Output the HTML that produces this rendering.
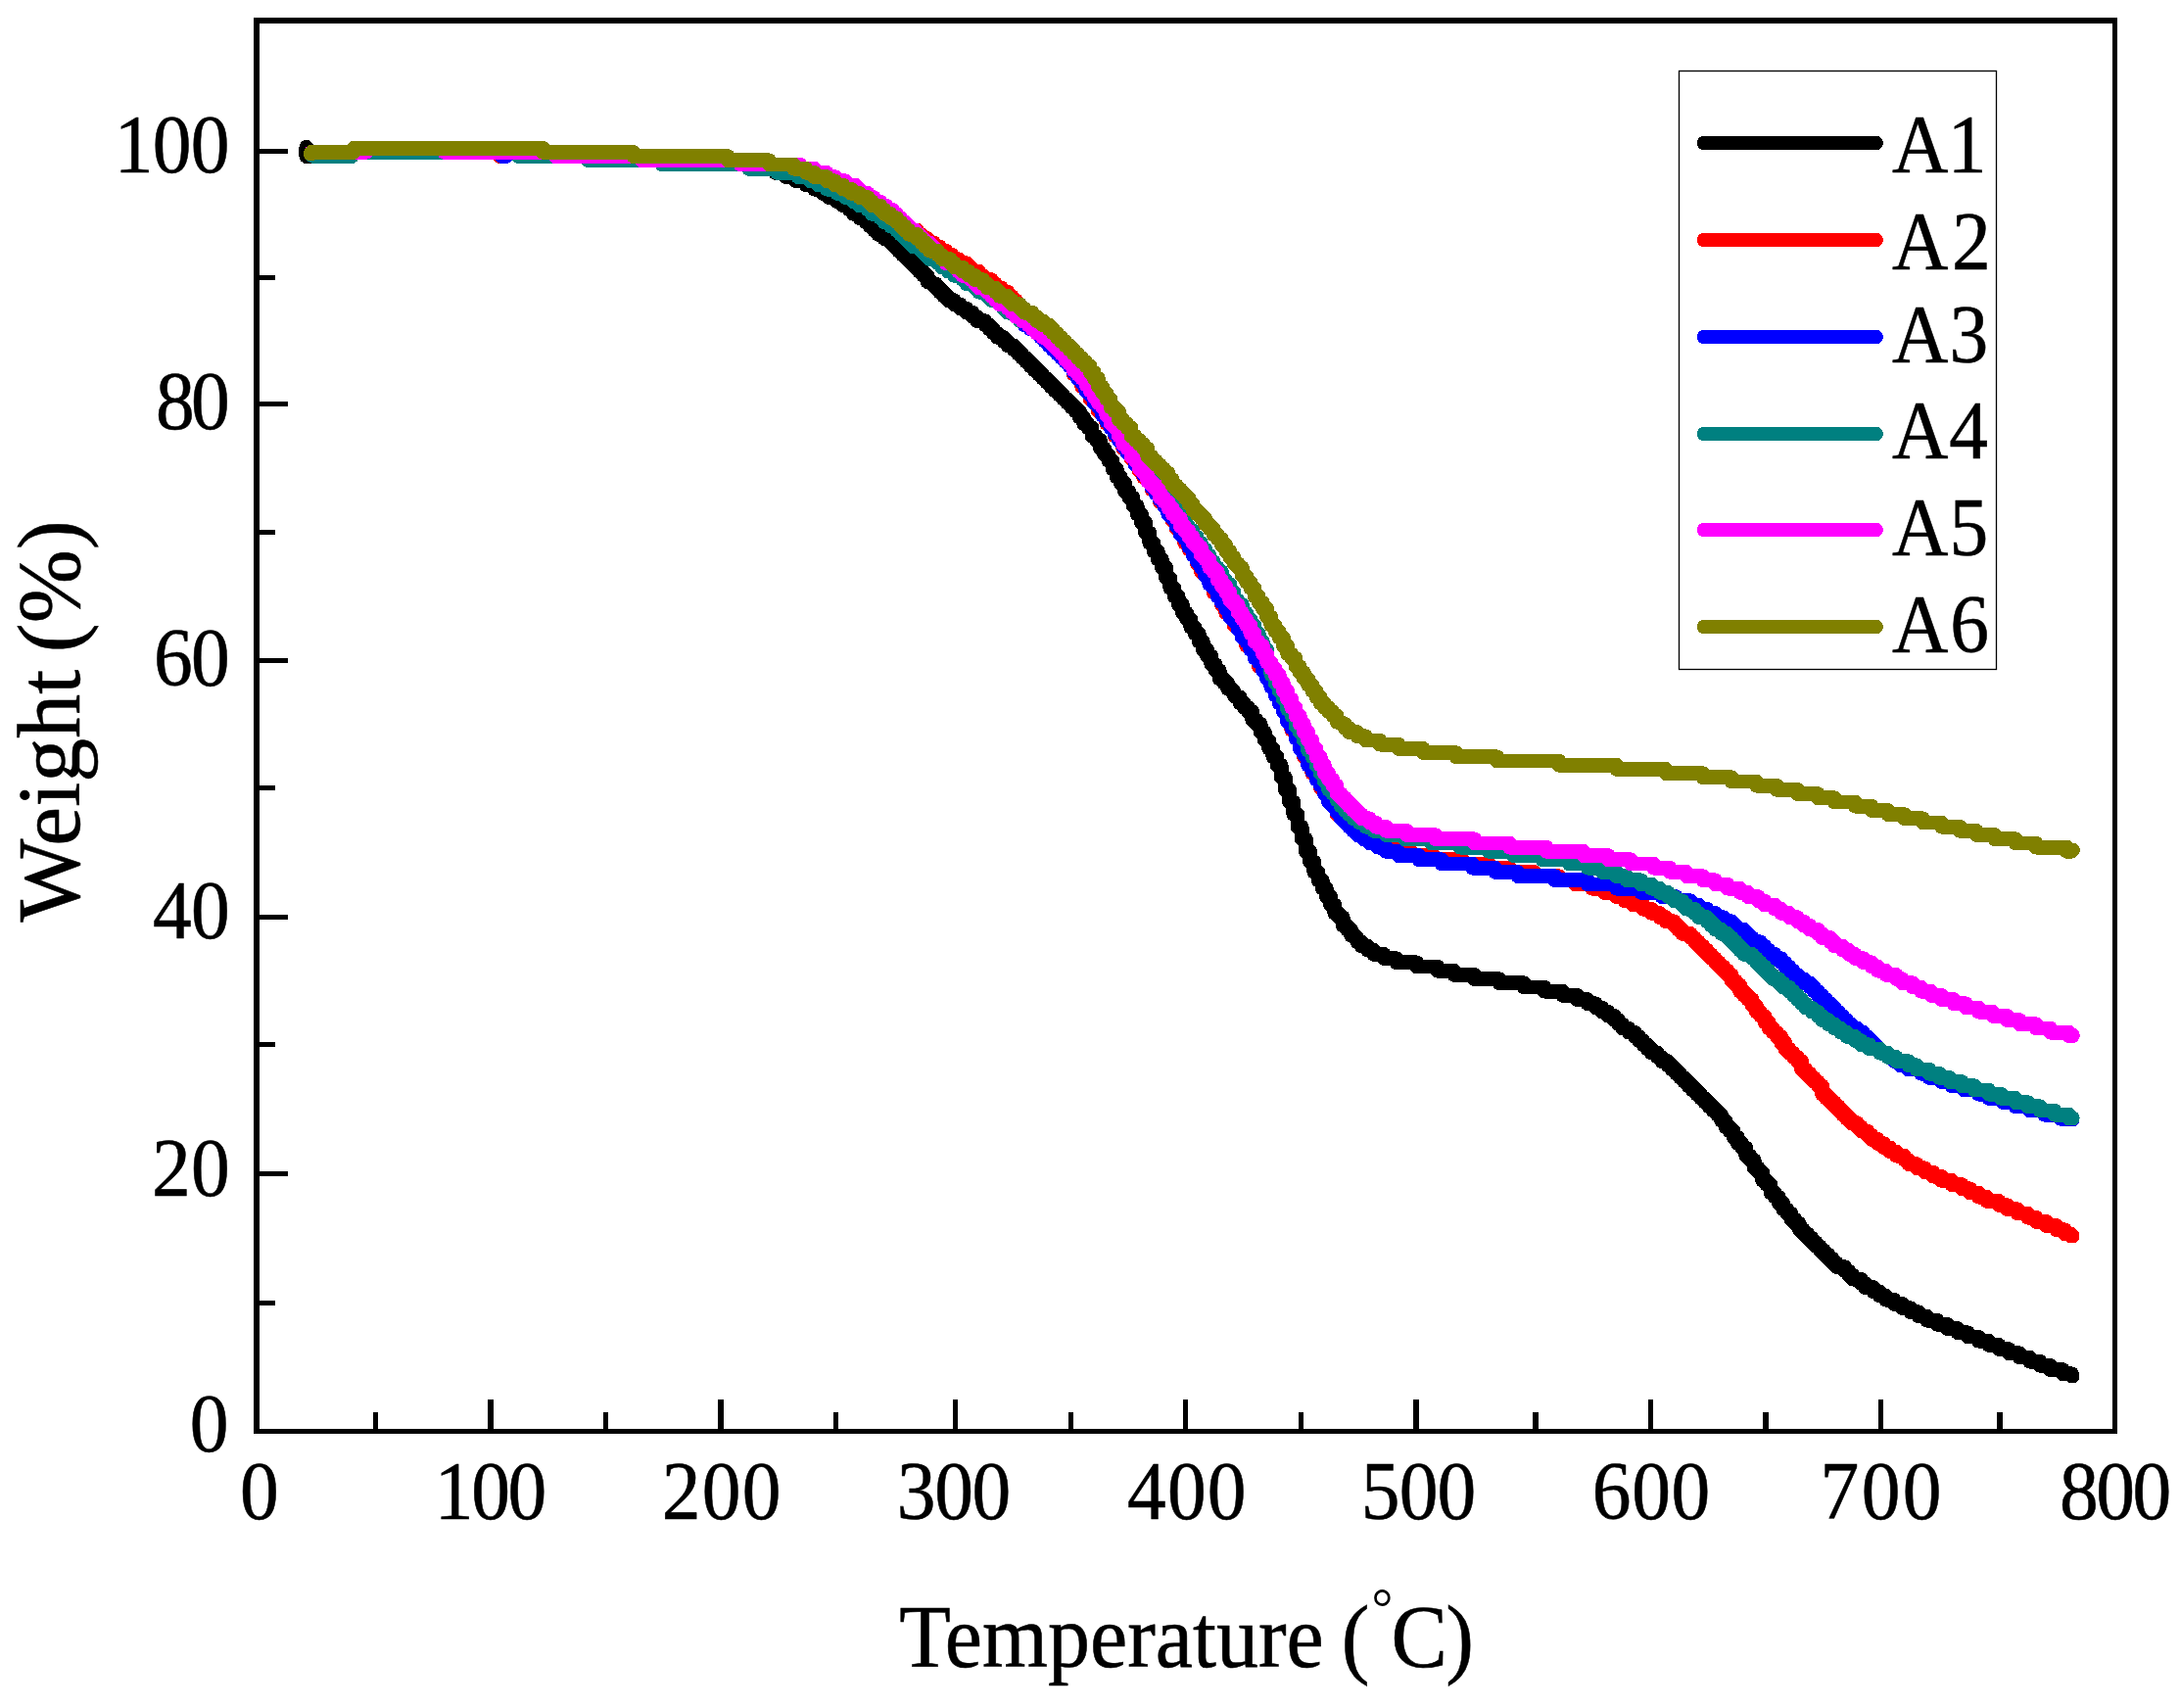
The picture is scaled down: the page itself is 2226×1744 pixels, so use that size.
<!DOCTYPE html>
<html lang="en"><head><meta charset="utf-8"><title>TGA curves A1-A6</title>
<style>html,body{margin:0;padding:0;background:#fff}body{width:2226px;height:1744px;overflow:hidden}svg{display:block}text{font-family:"Liberation Serif",serif;fill:#000;stroke:#000;stroke-width:0.55px}</style>
</head><body>
<svg width="2226" height="1744" viewBox="0 0 2226 1744" role="img" aria-label="TGA weight versus temperature curves A1 to A6">
<rect width="2226" height="1744" fill="#fff"/>
<g fill="none" stroke-width="14.8" stroke-linecap="round" stroke-linejoin="round" shape-rendering="crispEdges">
<path stroke="#000000" d="M312.8,150.3V159.6H354.8V155.4H375.8V151.2H548.0V155.4H636.2V159.6H730.7V163.8H760.1V168.0H779.0V172.2H791.6V176.4H802.1V180.6H812.6V184.8H823.1V189.0H831.5V193.2H839.9V197.4H846.2V201.6H854.6V205.8H860.9V210.0H867.2V214.2H871.4V218.4H877.7V222.6H884.0V226.8H888.2V231.0H892.4V235.2H896.6V239.4H902.9V243.6H909.2V247.8H913.4V252.0H917.6V256.2H921.8V260.4H926.0V264.6H930.2V268.8H934.4V273.0H938.6V277.2H942.8V281.4H947.0V287.7H951.2V289.8H955.4V294.0H959.6V298.2H963.8V302.4H968.0V306.6H974.3V310.8H980.6V315.0H986.9V319.2H993.2V323.4H997.4V327.6H1005.8V331.8H1010.0V336.0H1014.2V340.2H1018.4V344.4H1024.7V348.6H1028.8V352.8H1035.2V357.0H1039.4V361.2H1043.6V365.4H1047.8V369.6H1052.0V373.8H1056.2V378.0H1060.4V382.2H1064.6V386.4H1068.8V390.6H1073.0V394.8H1077.2V399.0H1081.4V403.2H1085.6V407.4H1089.8V411.6H1094.0V415.8H1098.2V420.0H1102.4V426.3H1106.6V432.6H1110.8V436.8H1115.0V445.2H1119.2V449.4H1123.4V457.8H1127.6V464.1H1131.8V470.4H1136.0V478.8H1140.2V487.2H1144.4V493.5H1148.6V501.9H1152.8V508.2H1157.0V516.6H1161.2V525.0H1165.4V533.4H1169.6V543.9H1173.8V554.4H1178.0V562.8H1182.2V571.2H1186.4V579.6H1190.6V590.1H1194.8V600.6H1199.0V609.0H1203.2V617.4H1207.4V625.8H1211.6V632.1H1215.8V640.5H1220.0V646.8H1224.2V655.2H1228.4V663.6H1232.6V669.9H1236.8V678.3H1241.0V684.6H1245.2V693.0H1249.4V697.2H1253.6V703.5H1257.8V705.6H1259.8V709.8H1262.0V711.9H1266.2V718.2H1270.4V722.4H1274.6V726.6H1278.8V735.0H1283.0V739.2H1287.2V747.6H1291.4V756.0H1295.6V764.4H1299.8V772.8H1304.0V781.2H1308.2V793.8H1312.4V806.4H1316.6V819.0H1320.8V831.6H1325.0V844.2H1329.2V856.8H1333.4V869.4H1337.6V879.9H1341.8V890.4H1346.0V898.8H1350.2V907.2H1354.4V915.6H1358.6V924.0H1362.8V932.4H1367.0V936.6H1371.2V945.0H1375.4V949.2H1379.6V955.5H1383.8V957.6H1385.8V961.8H1390.1V966.0H1396.4V970.2H1402.7V974.4H1413.2V978.6H1425.8V982.8H1446.8V987.0H1467.8V991.2H1484.6V995.4H1505.6V999.6H1530.8V1003.8H1556.0V1008.0H1577.0V1012.2H1595.8V1016.4H1610.6V1020.6H1621.1V1024.8H1629.5V1029.0H1635.8V1033.2H1642.1V1037.4H1648.4V1041.6H1652.6V1045.8H1656.8V1050.0H1663.1V1054.2H1669.4V1058.4H1673.6V1062.6H1677.8V1066.8H1682.0V1071.0H1686.2V1075.2H1692.5V1079.4H1696.7V1083.6H1703.0V1087.8H1707.2V1092.0H1711.4V1096.2H1715.6V1100.4H1719.8V1104.6H1724.0V1108.8H1728.2V1113.0H1732.4V1117.2H1736.6V1121.4H1740.8V1125.6H1745.0V1129.8H1749.2V1134.0H1753.4V1138.2H1757.6V1144.5H1761.8V1150.8H1766.0V1155.0H1770.2V1161.3H1774.4V1167.6H1778.6V1171.8H1782.8V1180.2H1787.0V1184.4H1791.2V1192.8H1795.4V1197.0H1799.6V1205.4H1803.8V1209.6H1808.0V1218.0H1812.2V1222.2H1816.4V1228.5H1820.6V1234.8H1824.8V1239.0H1829.0V1245.3H1833.2V1249.5H1837.4V1255.8H1841.6V1260.0H1845.8V1264.2H1850.0V1268.4H1854.2V1272.6H1858.4V1276.8H1862.6V1281.0H1866.8V1285.2H1871.0V1289.4H1875.2V1293.6H1883.6V1297.8H1887.8V1302.0H1892.0V1306.2H1900.4V1310.4H1904.6V1314.6H1913.0V1318.8H1919.2V1323.0H1925.6V1327.2H1934.0V1331.4H1942.4V1335.6H1950.8V1339.8H1959.2V1344.0H1967.6V1348.2H1978.1V1352.4H1988.6V1356.6H1999.1V1360.8H2009.6V1365.0H2020.1V1369.2H2030.6V1373.4H2041.1V1377.6H2051.5V1381.8H2062.1V1386.0H2072.5V1390.2H2083.1V1394.4H2093.5V1398.6H2106.2V1402.8H2115.4V1405.0H2116.2"/>
<path stroke="#ff0000" d="M318.0,157.0H320.7V155.4H373.8V151.2H487.2V155.4H510.3V159.6H516.6V155.4H558.6V159.6H665.7V163.8H760.2V168.0H802.2V172.2H821.1V176.4H831.6V180.6H844.2V184.8H852.6V189.0H863.1V193.2H869.4V197.4H877.8V201.6H886.2V205.8H894.6V210.0H898.8V214.2H907.2V218.4H911.4V222.6H919.8V226.8H924.0V231.0H928.2V235.2H936.6V239.4H940.8V243.6H947.1V247.8H953.4V252.0H959.7V256.2H966.0V260.4H972.3V264.6H978.6V268.8H987.0V273.0H991.2V277.2H999.6V281.4H1003.8V285.6H1012.2V289.8H1016.4V294.0H1022.7V298.2H1029.0V302.4H1033.2V306.6H1037.4V310.8H1041.6V315.0H1045.8V319.2H1050.0V323.4H1054.2V327.6H1058.4V331.8H1062.6V338.1H1066.8V342.3H1071.0V348.6H1075.2V352.8H1079.4V357.0H1083.6V363.3H1087.8V369.6H1092.0V373.8H1096.2V382.2H1100.4V386.4H1104.6V394.8H1108.8V399.0H1113.0V407.4H1117.2V411.6H1121.4V420.0H1125.6V424.2H1129.8V432.6H1134.0V436.8H1138.2V445.2H1142.4V449.4H1146.6V457.8H1150.8V462.0H1155.0V468.3H1159.2V474.6H1163.4V480.9H1167.6V487.2H1171.8V491.4H1176.0V499.8H1180.2V504.0H1184.4V512.4H1188.6V516.6H1192.8V525.0H1197.0V531.3H1201.2V539.7H1205.4V546.0H1209.6V554.4H1213.8V560.7H1218.0V567.0H1222.2V575.4H1226.4V583.8H1230.6V588.0H1234.8V596.4H1239.0V604.8H1243.2V609.0H1247.4V617.4H1251.6V625.8H1255.8V630.0H1260.0V638.4H1264.2V642.6H1268.4V651.0H1272.6V659.4H1276.8V663.6H1281.0V672.0H1285.2V680.4H1289.4V684.6H1293.6V693.0H1297.8V701.4H1302.0V709.8H1306.2V718.2H1310.4V726.6H1314.6V735.0H1318.8V745.5H1323.0V753.9H1327.2V762.3H1331.4V772.8H1335.6V779.1H1339.8V789.6H1344.0V795.9H1348.2V804.3H1352.4V810.6H1356.6V819.0H1360.8V823.2H1365.0V831.6H1369.2V835.8H1373.4V840.0H1377.6V844.2H1381.8V848.4H1386.0V852.6H1394.4V856.8H1402.8V861.0H1411.2V865.2H1423.8V869.4H1440.6V873.6H1463.7V877.8H1493.1V882.0H1520.4V886.2H1541.4V890.4H1566.6V894.6H1591.8V898.8H1608.6V903.0H1625.4V907.2H1638.0V911.4H1650.6V915.6H1659.0V919.8H1667.4V924.0H1677.9V928.2H1686.3V932.4H1694.7V936.6H1701.0V940.8H1709.4V945.0H1713.6V949.2H1717.8V953.4H1726.2V957.6H1730.4V961.8H1734.6V966.0H1738.8V970.2H1743.0V974.4H1747.2V978.6H1751.4V982.8H1755.6V987.0H1759.8V991.2H1764.0V995.4H1768.2V1001.7H1772.4V1005.9H1776.6V1012.2H1780.8V1016.4H1785.0V1020.6H1789.2V1026.9H1793.4V1033.2H1797.6V1037.4H1801.8V1043.7H1806.0V1050.0H1810.2V1054.2H1814.4V1058.4H1818.6V1064.7H1822.8V1071.0H1827.0V1075.2H1831.2V1079.4H1835.4V1083.6H1839.6V1092.0H1843.8V1096.2H1848.0V1100.4H1852.2V1104.6H1856.4V1108.8H1860.6V1117.2H1864.8V1121.4H1869.0V1125.6H1873.2V1129.8H1877.4V1134.0H1881.6V1138.2H1885.8V1142.4H1890.0V1146.6H1896.3V1150.8H1900.5V1155.0H1906.8V1159.2H1911.0V1163.4H1917.3V1167.6H1923.6V1171.8H1929.9V1176.0H1936.2V1180.2H1944.6V1184.4H1948.8V1188.6H1957.2V1192.8H1965.6V1197.0H1974.0V1201.2H1982.4V1205.4H1992.9V1209.6H2003.4V1213.8H2011.8V1218.0H2020.2V1222.2H2028.6V1226.4H2041.2V1230.6H2049.6V1234.8H2060.1V1239.0H2070.6V1243.2H2079.0V1247.4H2089.5V1251.6H2100.0V1255.8H2108.4V1260.0H2114.4V1262.0H2116.2"/>
<path stroke="#0000ff" d="M318.0,157.0H320.7V155.4H373.8V151.2H487.2V155.4H512.4V159.6H516.6V155.4H558.6V159.6H667.8V163.8H760.2V168.0H802.2V172.2H819.0V176.4H827.4V180.6H840.0V184.8H848.4V189.0H856.8V193.2H865.2V197.4H873.6V201.6H882.0V205.8H888.3V210.0H894.6V214.2H900.9V218.4H907.2V222.6H911.4V226.8H917.7V231.0H921.9V235.2H928.2V239.4H932.4V243.6H936.6V247.8H942.9V252.0H949.2V256.2H953.4V260.4H959.7V264.6H966.0V268.8H970.2V273.0H976.5V277.2H982.8V281.4H989.1V285.6H995.4V289.8H999.6V294.0H1003.8V298.2H1010.1V302.4H1016.4V306.6H1020.6V310.8H1024.8V315.0H1031.1V319.2H1037.4V323.4H1041.6V327.6H1045.8V331.8H1052.1V336.0H1058.4V340.2H1062.6V344.4H1066.8V348.6H1071.0V352.8H1075.2V357.0H1079.4V361.2H1083.6V365.4H1087.8V369.6H1092.0V373.8H1096.2V380.1H1100.4V386.4H1104.6V390.6H1108.8V399.0H1113.0V403.2H1117.2V411.6H1121.4V415.8H1125.6V424.2H1129.8V430.5H1134.0V436.8H1138.2V443.1H1142.4V449.4H1146.6V455.7H1150.8V462.0H1155.0V466.2H1159.2V474.6H1163.4V478.8H1167.6V485.1H1171.8V491.4H1176.0V497.7H1180.2V504.0H1184.4V510.3H1188.6V516.6H1192.8V525.0H1197.0V529.2H1201.2V537.6H1205.4V546.0H1209.6V550.2H1213.8V558.6H1218.0V567.0H1222.2V573.3H1226.4V579.6H1230.6V588.0H1234.8V596.4H1239.0V600.6H1243.2V609.0H1247.4V615.3H1251.6V621.6H1255.8V630.0H1260.0V634.2H1264.2V642.6H1268.4V651.0H1272.6V655.2H1276.8V663.6H1281.0V672.0H1285.2V676.2H1289.4V684.6H1293.6V693.0H1297.8V701.4H1302.0V709.8H1306.2V718.2H1310.4V726.6H1314.6V737.1H1318.8V743.4H1323.0V753.9H1327.2V764.4H1331.4V770.7H1335.6V781.2H1339.8V787.5H1344.0V795.9H1348.2V802.2H1352.4V810.6H1356.6V819.0H1360.8V823.2H1365.0V829.5H1369.2V835.8H1373.4V840.0H1377.6V844.2H1381.8V848.4H1386.0V852.6H1392.3V856.8H1398.6V861.0H1407.0V865.2H1415.4V869.4H1428.0V873.6H1449.0V877.8H1472.1V882.0H1503.6V886.2H1526.7V890.4H1549.8V894.6H1587.6V898.8H1621.2V903.0H1650.6V907.2H1675.8V911.4H1696.8V915.6H1711.5V919.8H1726.2V924.0H1734.6V928.2H1743.0V932.4H1751.4V936.6H1759.8V940.8H1768.2V945.0H1772.4V949.2H1780.8V953.4H1785.0V957.6H1789.2V961.8H1797.6V966.0H1801.8V970.2H1806.0V974.4H1812.3V978.6H1818.6V982.8H1822.8V987.0H1827.0V991.2H1831.2V995.4H1835.4V999.6H1841.7V1003.8H1848.0V1008.0H1852.2V1012.2H1856.4V1016.4H1860.6V1020.6H1864.8V1024.8H1869.0V1029.0H1873.2V1033.2H1877.4V1037.4H1881.6V1041.6H1885.8V1045.8H1890.0V1050.0H1896.3V1054.2H1902.6V1058.4H1906.8V1062.6H1911.0V1066.8H1915.2V1071.0H1919.4V1075.2H1927.8V1079.4H1934.1V1083.6H1940.4V1087.8H1948.8V1092.0H1961.4V1096.2H1969.8V1100.4H1982.4V1104.6H1992.9V1108.8H2005.5V1113.0H2020.2V1117.2H2030.7V1121.4H2045.4V1125.6H2058.0V1129.8H2072.7V1134.0H2087.4V1138.2H2104.2V1142.4H2114.4V1143.0H2116.2"/>
<path stroke="#008080" d="M318.0,158.3H320.7V159.6H359.1V155.4H529.2V159.6H600.6V163.8H676.2V168.0H764.4V172.2H793.8V176.4H814.8V180.6H827.4V184.8H835.8V189.0H844.2V193.2H854.7V197.4H863.1V201.6H871.5V205.8H877.8V210.0H886.2V214.2H890.4V218.4H898.8V222.6H903.0V226.8H909.3V231.0H915.6V235.2H919.8V239.4H924.0V243.6H928.2V247.8H932.4V252.0H940.8V256.2H945.0V260.4H949.2V264.6H957.6V268.8H961.8V273.0H968.1V277.2H974.4V281.4H982.8V285.6H987.0V289.8H995.4V294.0H999.6V298.2H1008.0V302.4H1012.2V306.6H1020.6V310.8H1024.8V315.0H1029.0V319.2H1037.4V323.4H1041.6V327.6H1050.0V331.8H1054.2V336.0H1060.5V340.2H1066.8V344.4H1071.0V348.6H1075.2V352.8H1079.4V357.0H1083.6V361.2H1087.8V365.4H1092.0V369.6H1096.2V373.8H1100.4V378.0H1104.6V382.2H1108.8V386.4H1113.0V394.8H1117.2V399.0H1121.4V405.3H1125.6V411.6H1129.8V415.8H1134.0V424.2H1138.2V432.6H1142.4V436.8H1146.6V445.2H1150.8V453.6H1155.0V457.8H1159.2V466.2H1163.4V470.4H1167.6V478.8H1171.8V483.0H1176.0V489.3H1180.2V495.6H1184.4V499.8H1188.6V508.2H1192.8V512.4H1197.0V518.7H1201.2V525.0H1205.4V529.2H1209.6V537.6H1213.8V541.8H1218.0V548.1H1222.2V554.4H1226.4V560.7H1230.6V567.0H1234.8V573.3H1239.0V579.6H1243.2V583.8H1247.4V592.2H1251.6V596.4H1255.8V604.8H1260.0V613.2H1264.2V617.4H1268.4V625.8H1272.6V632.1H1276.8V638.4H1281.0V646.8H1285.2V655.2H1289.4V663.6H1293.6V676.2H1297.8V688.8H1302.0V697.2H1306.2V705.6H1310.4V714.0H1314.6V724.5H1318.8V730.8H1323.0V741.3H1327.2V747.6H1331.4V756.0H1335.6V766.5H1339.8V772.8H1344.0V781.2H1348.2V789.6H1352.4V798.0H1356.6V806.4H1360.8V810.6H1365.0V816.9H1369.2V823.2H1373.4V827.4H1377.6V831.6H1381.8V835.8H1388.1V840.0H1394.4V844.2H1402.8V848.4H1415.4V852.6H1434.3V856.8H1461.6V861.0H1491.0V865.2H1520.4V869.4H1545.6V873.6H1575.0V877.8H1602.3V882.0H1621.2V886.2H1635.9V890.4H1650.6V894.6H1661.1V898.8H1675.8V903.0H1686.3V907.2H1694.7V911.4H1703.1V915.6H1709.4V919.8H1717.8V924.0H1722.0V928.2H1730.4V932.4H1734.6V936.6H1743.0V940.8H1747.2V945.0H1751.4V949.2H1757.7V953.4H1764.0V957.6H1768.2V961.8H1772.4V966.0H1776.6V970.2H1780.8V974.4H1789.2V978.6H1793.4V982.8H1797.6V987.0H1801.8V991.2H1806.0V995.4H1810.2V999.6H1816.5V1003.8H1820.7V1008.0H1827.0V1012.2H1831.2V1016.4H1835.4V1020.6H1839.6V1024.8H1843.8V1029.0H1850.1V1033.2H1856.4V1037.4H1860.6V1041.6H1866.9V1045.8H1873.2V1050.0H1879.5V1054.2H1885.8V1058.4H1894.2V1062.6H1900.5V1066.8H1908.9V1071.0H1919.4V1075.2H1927.8V1079.4H1936.2V1083.6H1948.8V1087.8H1957.2V1092.0H1969.8V1096.2H1980.3V1100.4H1990.8V1104.6H2003.4V1108.8H2016.0V1113.0H2030.7V1117.2H2043.3V1121.4H2058.0V1125.6H2070.6V1129.8H2083.2V1134.0H2097.9V1138.2H2112.6V1142.0H2116.2V1141.5"/>
<path stroke="#ff00ff" d="M318.0,155.3H320.7V155.4H373.8V151.2H453.6V155.4H567.0V159.6H655.2V163.8H756.0V168.0H816.9V172.2H831.6V176.4H844.2V180.6H852.6V184.8H863.1V189.0H873.6V193.2H877.8V197.4H886.2V201.6H892.5V205.8H898.8V210.0H905.1V214.2H911.4V218.4H915.6V222.6H919.8V226.8H924.0V231.0H928.2V235.2H934.5V239.4H938.7V243.6H942.9V247.8H949.2V252.0H953.4V256.2H957.6V260.4H961.8V264.6H966.0V268.8H974.4V273.0H978.6V277.2H982.8V281.4H991.2V285.6H995.4V289.8H999.6V294.0H1008.0V298.2H1012.2V302.4H1016.4V306.6H1020.6V310.8H1029.0V315.0H1033.2V319.2H1037.4V323.4H1043.7V327.6H1050.0V331.8H1054.2V336.0H1058.4V340.2H1064.7V344.4H1071.0V348.6H1075.2V352.8H1079.4V357.0H1083.6V361.2H1087.8V367.5H1092.0V371.7H1096.2V378.0H1100.4V382.2H1104.6V386.4H1108.8V392.7H1113.0V399.0H1117.2V405.3H1121.4V411.6H1125.6V415.8H1129.8V424.2H1134.0V432.6H1138.2V436.8H1142.4V445.2H1146.6V453.6H1150.8V457.8H1155.0V466.2H1159.2V470.4H1163.4V478.8H1167.6V483.0H1171.8V491.4H1176.0V495.6H1180.2V499.8H1184.4V508.2H1188.6V512.4H1192.8V518.7H1197.0V525.0H1201.2V529.2H1205.4V537.6H1209.6V541.8H1213.8V548.1H1218.0V554.4H1222.2V558.6H1226.4V567.0H1230.6V571.2H1234.8V579.6H1239.0V583.8H1243.2V592.2H1247.4V598.5H1251.6V604.8H1255.8V613.2H1260.0V617.4H1264.2V625.8H1268.4V632.1H1272.6V638.4H1276.8V646.8H1281.0V655.2H1285.2V659.4H1289.4V667.8H1293.6V676.2H1297.8V682.5H1302.0V688.8H1306.2V697.2H1310.4V705.6H1314.6V714.0H1318.8V722.4H1323.0V730.8H1327.2V739.2H1331.4V747.6H1335.6V756.0H1339.8V764.4H1344.0V772.8H1348.2V781.2H1352.4V789.6H1356.6V795.9H1360.8V802.2H1365.0V810.6H1369.2V814.8H1373.4V819.0H1377.6V823.2H1381.8V827.4H1386.0V831.6H1390.2V835.8H1398.6V840.0H1404.9V844.2H1415.4V848.4H1436.4V852.6H1465.8V856.8H1505.7V861.0H1541.4V865.2H1579.2V869.4H1617.0V873.6H1642.2V877.8H1665.3V882.0H1688.4V886.2H1705.2V890.4H1722.0V894.6H1738.8V898.8H1751.4V903.0H1764.0V907.2H1776.6V911.4H1785.0V915.6H1795.5V919.8H1801.8V924.0H1812.3V928.2H1818.6V932.4H1827.0V936.6H1835.4V940.8H1841.7V945.0H1848.0V949.2H1856.4V953.4H1860.6V957.6H1869.0V961.8H1873.2V966.0H1881.6V970.2H1887.9V974.4H1894.2V978.6H1902.6V982.8H1911.0V987.0H1917.3V991.2H1925.7V995.4H1936.2V999.6H1942.5V1003.8H1953.0V1008.0H1961.4V1012.2H1971.9V1016.4H1982.4V1020.6H1995.0V1024.8H2007.6V1029.0H2020.2V1033.2H2034.9V1037.4H2049.6V1041.6H2062.2V1045.8H2079.0V1050.0H2093.7V1054.2H2112.6V1057.7H2116.3V1057.0"/>
<path stroke="#808000" d="M317.0,157.0H318.1V155.4H361.2V151.2H554.4V155.4H646.8V159.6H743.4V163.8H785.4V168.0H810.6V172.2H823.2V176.4H831.6V180.6H844.2V184.8H852.6V189.0H861.0V193.2H869.4V197.4H877.8V201.6H886.2V205.8H890.4V210.0H898.8V214.2H903.0V218.4H909.3V222.6H915.6V226.8H919.8V231.0H924.0V235.2H928.2V239.4H936.6V243.6H940.8V247.8H945.0V252.0H949.2V256.2H957.6V260.4H961.8V264.6H970.2V268.8H974.4V273.0H982.8V277.2H989.1V281.4H995.4V285.6H1003.8V289.8H1008.0V294.0H1016.4V298.2H1020.6V302.4H1029.0V306.6H1033.2V310.8H1041.6V315.0H1045.8V319.2H1054.2V323.4H1058.4V327.6H1064.7V331.8H1071.0V336.0H1075.2V340.2H1079.4V344.4H1083.6V348.6H1087.8V352.8H1092.0V357.0H1096.2V361.2H1100.4V365.4H1104.6V369.6H1108.8V373.8H1113.0V380.1H1117.2V386.4H1121.4V394.8H1125.6V401.1H1129.8V407.4H1134.0V415.8H1138.2V420.0H1142.4V428.4H1146.6V432.6H1150.8V436.8H1155.0V445.2H1159.2V449.4H1163.4V453.6H1167.6V457.8H1171.8V466.2H1176.0V470.4H1180.2V474.6H1184.4V478.8H1188.6V483.0H1192.8V489.3H1197.0V495.6H1201.2V499.8H1205.4V504.0H1209.6V508.2H1213.8V514.5H1218.0V520.8H1222.2V525.0H1226.4V529.2H1230.6V535.5H1234.8V539.7H1239.0V546.0H1243.2V550.2H1247.4V556.5H1251.6V562.8H1255.8V569.1H1260.0V575.4H1264.2V579.6H1268.4V588.0H1272.6V594.3H1276.8V600.6H1281.0V609.0H1285.2V615.3H1289.4V621.6H1293.6V630.0H1297.8V638.4H1302.0V644.7H1306.2V651.0H1310.4V659.4H1314.6V667.8H1318.8V672.0H1323.0V680.4H1327.2V686.7H1331.4V693.0H1335.6V699.3H1339.8V705.6H1344.0V711.9H1348.2V718.2H1352.4V722.4H1356.6V726.6H1360.8V730.8H1365.0V737.1H1369.2V739.2H1373.4V743.4H1377.6V747.6H1386.0V751.8H1394.4V756.0H1409.1V760.2H1428.0V764.4H1453.2V768.6H1486.8V772.8H1528.8V777.0H1591.8V781.2H1650.6V785.4H1701.0V789.6H1738.8V793.8H1768.2V798.0H1793.4V802.2H1814.4V806.4H1835.4V810.6H1856.4V814.8H1873.2V819.0H1894.2V823.2H1911.0V827.4H1927.8V831.6H1944.6V835.8H1963.5V840.0H1982.4V844.2H2001.3V848.4H2018.1V852.6H2037.0V856.8H2058.0V861.0H2079.0V865.2H2110.5V869.4H2114.6V868.0H2116.5"/>
</g>
<g fill="#000" shape-rendering="crispEdges">
<rect x="259" y="18" width="6" height="1446"/>
<rect x="2157" y="18" width="5" height="1446"/>
<rect x="259" y="18" width="1903" height="6"/>
<rect x="259" y="1459" width="1903" height="5"/>
<rect x="498.2" y="1429" width="5.5" height="31"/>
<rect x="733.2" y="1429" width="5.5" height="31"/>
<rect x="972.8" y="1429" width="5.5" height="31"/>
<rect x="1207.8" y="1429" width="5.5" height="31"/>
<rect x="1443.2" y="1429" width="5.5" height="31"/>
<rect x="1682.8" y="1429" width="5.5" height="31"/>
<rect x="1917.8" y="1429" width="5.5" height="31"/>
<rect x="380.8" y="1442" width="5.5" height="18"/>
<rect x="615.8" y="1442" width="5.5" height="18"/>
<rect x="850.8" y="1442" width="5.5" height="18"/>
<rect x="1090.8" y="1442" width="5.5" height="18"/>
<rect x="1325.8" y="1442" width="5.5" height="18"/>
<rect x="1565.2" y="1442" width="5.5" height="18"/>
<rect x="1800.2" y="1442" width="5.5" height="18"/>
<rect x="2039.2" y="1442" width="5.5" height="18"/>
<rect x="264" y="152.0" width="30" height="5"/>
<rect x="264" y="409.9" width="30" height="5"/>
<rect x="264" y="672.1" width="30" height="5"/>
<rect x="264" y="933.7" width="30" height="5"/>
<rect x="264" y="1196.2" width="30" height="5"/>
<rect x="264" y="280.9" width="17" height="5"/>
<rect x="264" y="541.0" width="17" height="5"/>
<rect x="264" y="801.8" width="17" height="5"/>
<rect x="264" y="1063.8" width="17" height="5"/>
<rect x="264" y="1327.5" width="17" height="5"/>
</g>
<g font-size="84.2">
<text transform="translate(244.9,1550.8) scale(0.944,1)" letter-spacing="0.00">0</text>
<text transform="translate(443.8,1550.8) scale(0.944,1)" letter-spacing="-2.54">100</text>
<text transform="translate(675.8,1550.8) scale(0.944,1)" letter-spacing="1.27">200</text>
<text transform="translate(915.8,1550.8) scale(0.944,1)" letter-spacing="-1.48">300</text>
<text transform="translate(1151.1,1550.8) scale(0.944,1)" letter-spacing="1.11">400</text>
<text transform="translate(1389.8,1550.8) scale(0.944,1)" letter-spacing="-0.95">500</text>
<text transform="translate(1625.8,1550.8) scale(0.944,1)" letter-spacing="0.64">600</text>
<text transform="translate(1858.6,1550.8) scale(0.944,1)" letter-spacing="2.44">700</text>
<text transform="translate(2102.9,1550.8) scale(0.944,1)" letter-spacing="-2.54">800</text>
<text transform="translate(116.8,175.8) scale(0.944,1)" letter-spacing="-0.85">100</text>
<text transform="translate(158.9,438.0) scale(0.944,1)" letter-spacing="-3.92">80</text>
<text transform="translate(156.9,699.8) scale(0.944,1)" letter-spacing="-1.80">60</text>
<text transform="translate(155.9,957.8) scale(0.944,1)" letter-spacing="-0.74">40</text>
<text transform="translate(154.9,1220.8) scale(0.944,1)" letter-spacing="0.32">20</text>
<text transform="translate(193.8,1482.4) scale(0.944,1)" letter-spacing="0.00">0</text>
</g>
<rect x="1714.5" y="72.5" width="324" height="611" fill="#fff" stroke="#000" stroke-width="1.3"/>
<g stroke-width="14.5" stroke-linecap="round" fill="none" shape-rendering="crispEdges">
<line x1="1740" y1="146.0" x2="1915.7" y2="146.0" stroke="#000000"/>
<line x1="1740" y1="245.0" x2="1915.7" y2="245.0" stroke="#ff0000"/>
<line x1="1740" y1="344.0" x2="1915.7" y2="344.0" stroke="#0000ff"/>
<line x1="1740" y1="443.0" x2="1915.7" y2="443.0" stroke="#008080"/>
<line x1="1740" y1="541.0" x2="1915.7" y2="541.0" stroke="#ff00ff"/>
<line x1="1740" y1="640.0" x2="1915.7" y2="640.0" stroke="#808000"/>
</g>
<g font-size="84.2">
<text transform="translate(1932.1,176.0) scale(0.944,1)" letter-spacing="-0.85">A1</text>
<text transform="translate(1932.1,275.0) scale(0.944,1)" letter-spacing="3.71">A2</text>
<text transform="translate(1932.1,369.8) scale(0.944,1)" letter-spacing="0.95">A3</text>
<text transform="translate(1932.1,468.2) scale(0.944,1)" letter-spacing="0.74">A4</text>
<text transform="translate(1932.1,566.7) scale(0.944,1)" letter-spacing="0.95">A5</text>
<text transform="translate(1932.1,665.6) scale(0.944,1)" letter-spacing="1.80">A6</text>
</g>
<g font-size="90">
<text transform="translate(918.3,1702.3) scale(0.956,1)"><tspan x="0" y="0">Temperature <tspan dx="-3.6">(</tspan></tspan><tspan x="504.5" y="-41.7" font-size="57" stroke="none">°</tspan><tspan x="525.2" y="0">C<tspan dx="-1.5">)</tspan></tspan></text>
<text transform="translate(80.8,941.5) rotate(-90)" x="0" y="0">Weight</text>
<text transform="translate(80.8,666.3) rotate(-90)" x="0" y="0">(%)</text>
</g>
</svg></body></html>
